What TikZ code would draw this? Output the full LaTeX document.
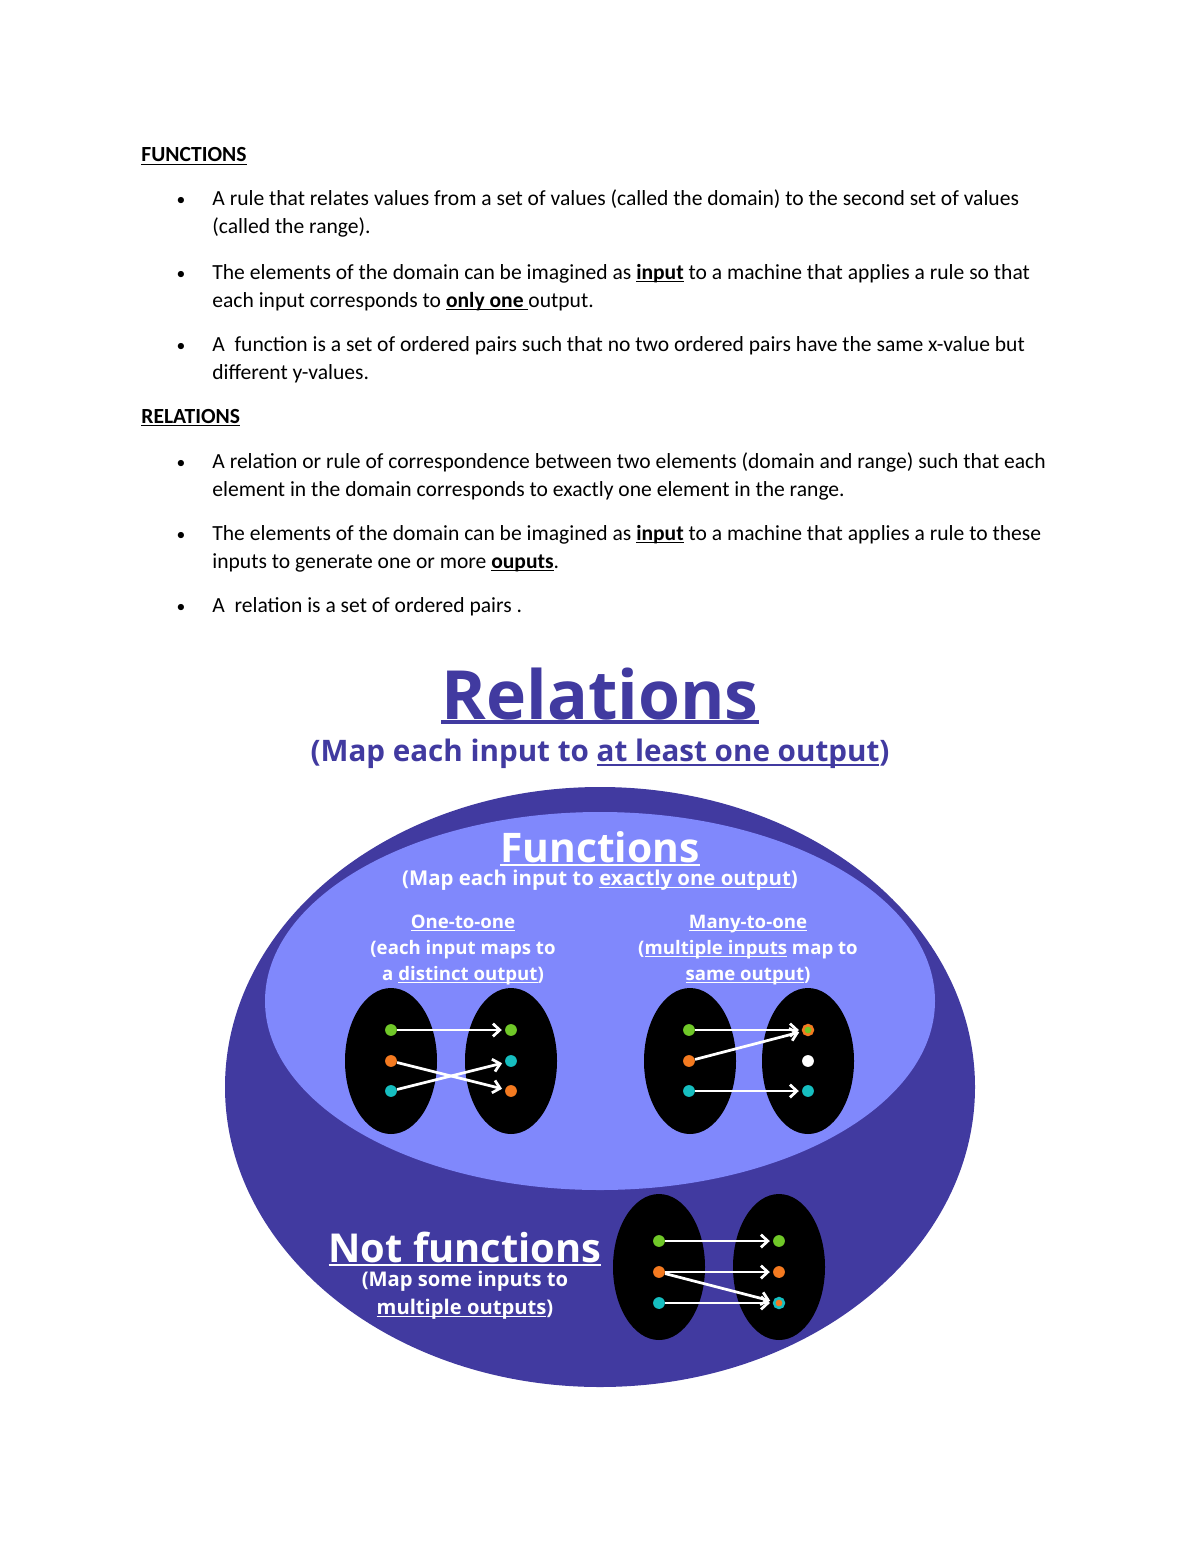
\documentclass[tikz,border=0pt]{standalone}
\usepackage{fontspec}
\setmainfont{Carlito}
\newfontfamily\diagfont{Open Sans}
\usepackage{xcolor}
\usepackage{tikz}
\usetikzlibrary{arrows.meta,positioning}

\definecolor{reldark}{RGB}{65,58,160}
\definecolor{funclight}{RGB}{128,136,252}
\definecolor{dotgreen}{RGB}{112,200,40}
\definecolor{dotorange}{RGB}{244,122,32}
\definecolor{dotcyan}{RGB}{22,190,192}

% underline: \ulw{thickness}{depth}{text}
\newsavebox{\ulbox}
\newcommand{\ulw}[3]{\sbox{\ulbox}{#3}\leavevmode\rlap{\rule[-#2]{\wd\ulbox}{#1}}\usebox{\ulbox}}
\newcommand{\uln}[1]{\ulw{0.065em}{0.16em}{#1}}

\begin{document}
\begin{tikzpicture}[
  x=0.51pt, y=-0.51pt,
  >={Straight Barb[length=3.5pt,width=6.5pt]},
  bodyline/.style={anchor=base west, inner sep=0pt, font=\fontsize{11}{13}\selectfont},
  bulletmark/.style={anchor=base, inner sep=0pt, font=\fontsize{9}{13}\selectfont},
  dtext/.style={anchor=base, inner sep=0pt, text=white, font=\diagfont\bfseries\fontsize{#1}{#1}\selectfont},
  dot/.style={circle, inner sep=0pt, minimum size=6pt},
  maparrow/.style={->, white, line width=1.4pt, shorten >=1.5pt},
]
\fill[white] (0,0) rectangle (1200,1553);
\useasboundingbox (0,0) rectangle (1200,1553);

% Notes
\node[bodyline] (hfun) at (141,162) {\textbf{\uln{FUNCTIONS}}};
\foreach \y/\n in {205/1, 279/2, 351/3, 468/4, 540/5, 612/6} {
  \node[bulletmark] (dotb\n) at (181,\y) {•};
}
\node[bodyline] (b1a) at (212,205) {A rule that relates values from a set of values (called the domain) to the second set of values};
\node[bodyline] (b1b) at (212,234) {(called the range).};
\node[bodyline] (b2a) at (212,279) {The elements of the domain can be imagined as \textbf{\uln{input}} to a machine that applies a rule so that};
\node[bodyline] (b2b) at (212,307) {each input corresponds to \textbf{\uln{only one\ }}output.};
\node[bodyline] (b3a) at (212,351) {A\ \ function is a set of ordered pairs such that no two ordered pairs have the same x-value but};
\node[bodyline] (b3b) at (212,379) {different y-values.};
\node[bodyline] (hrel) at (141,423) {\textbf{\uln{RELATIONS}}};
\node[bodyline] (b4a) at (212,468) {A relation or rule of correspondence between two elements (domain and range) such that each};
\node[bodyline] (b4b) at (212,496) {element in the domain corresponds to exactly one element in the range.};
\node[bodyline] (b5a) at (212,540) {The elements of the domain can be imagined as \textbf{\uln{input}} to a machine that applies a rule to these};
\node[bodyline] (b5b) at (212,568) {inputs to generate one or more \textbf{\uln{ouputs}}.};
\node[bodyline] (b6a) at (212,612) {A\ \ relation is a set of ordered pairs .};

% Titles
\node[dtext=34.6, text=reldark] (reltitle) at (600,719) {\ulw{2pt}{2.5pt}{Relations}};
\node[dtext=15.1, text=reldark] (relsub) at (600,761) {(Map each input to \uln{at least one output})};

% Sets
\fill[reldark] (600,1087) ellipse [x radius=375, y radius=300];
\fill[funclight] (600,1001) ellipse [x radius=335, y radius=189];

\node[dtext=20.8] (funtitle) at (600,862) {\ulw{1.2pt}{2pt}{Functions}};
\node[dtext=10.4] (funsub) at (600,885) {(Map each input to \uln{exactly one output})};
\node[dtext=9.5] (onetitle) at (463,928) {\uln{One-to-one}};
\node[dtext=9.5] (onesub1) at (463,954) {(each input maps to};
\node[dtext=9.5] (onesub2) at (463,980) {a \uln{distinct output})};
\node[dtext=9.5] (manytitle) at (748,928) {\uln{Many-to-one}};
\node[dtext=9.5] (manysub1) at (748,954) {(\uln{multiple inputs} map to};
\node[dtext=9.5] (manysub2) at (748,980) {\uln{same output})};

\node[dtext=20.3] (nottitle) at (465,1262) {\ulw{1.2pt}{2pt}{Not functions}};
\node[dtext=10.3] (notsub1) at (465,1286) {(Map some inputs to};
\node[dtext=10.3] (notsub2) at (465,1314) {\uln{multiple outputs})};

% Domain and range ovals
\foreach \cx/\cy in {391/1061, 511/1061, 690/1061, 808/1061, 659/1267, 779/1267} {
  \fill[black] (\cx,\cy) ellipse [x radius=46, y radius=73];
}

% One-to-one
\node[dot, fill=dotgreen]  (oa1) at (391,1030) {};
\node[dot, fill=dotorange] (oa2) at (391,1061) {};
\node[dot, fill=dotcyan]   (oa3) at (391,1091) {};
\node[dot, fill=dotgreen]  (ob1) at (511,1030) {};
\node[dot, fill=dotcyan]   (ob2) at (511,1061) {};
\node[dot, fill=dotorange] (ob3) at (511,1091) {};
\draw[maparrow] (oa1) -- (ob1);
\draw[maparrow] (oa2) -- (ob3);
\draw[maparrow] (oa3) -- (ob2);

% Many-to-one
\node[dot, fill=dotgreen]  (ma1) at (689,1030) {};
\node[dot, fill=dotorange] (ma2) at (689,1061) {};
\node[dot, fill=dotcyan]   (ma3) at (689,1091) {};
\node[dot, fill=dotgreen, draw=dotorange, line width=1.3pt, minimum size=5pt] (mb1) at (808,1030) {};
\node[dot, fill=white]     (mb2) at (808,1061) {};
\node[dot, fill=dotcyan]   (mb3) at (808,1091) {};
\draw[maparrow] (ma1) -- (mb1);
\draw[maparrow] (ma2) -- (mb1);
\draw[maparrow] (ma3) -- (mb3);

% Not functions
\node[dot, fill=dotgreen]  (na1) at (659,1241) {};
\node[dot, fill=dotorange] (na2) at (659,1272) {};
\node[dot, fill=dotcyan]   (na3) at (659,1303) {};
\node[dot, fill=dotgreen]  (nb1) at (779,1241) {};
\node[dot, fill=dotorange] (nb2) at (779,1272) {};
\node[dot, fill=dotorange, draw=dotcyan, line width=1.3pt, minimum size=5pt] (nb3) at (779,1303) {};
\draw[maparrow] (na1) -- (nb1);
\draw[maparrow] (na2) -- (nb2);
\draw[maparrow] (na2) -- (nb3);
\draw[maparrow] (na3) -- (nb3);
\end{tikzpicture}
\end{document}
